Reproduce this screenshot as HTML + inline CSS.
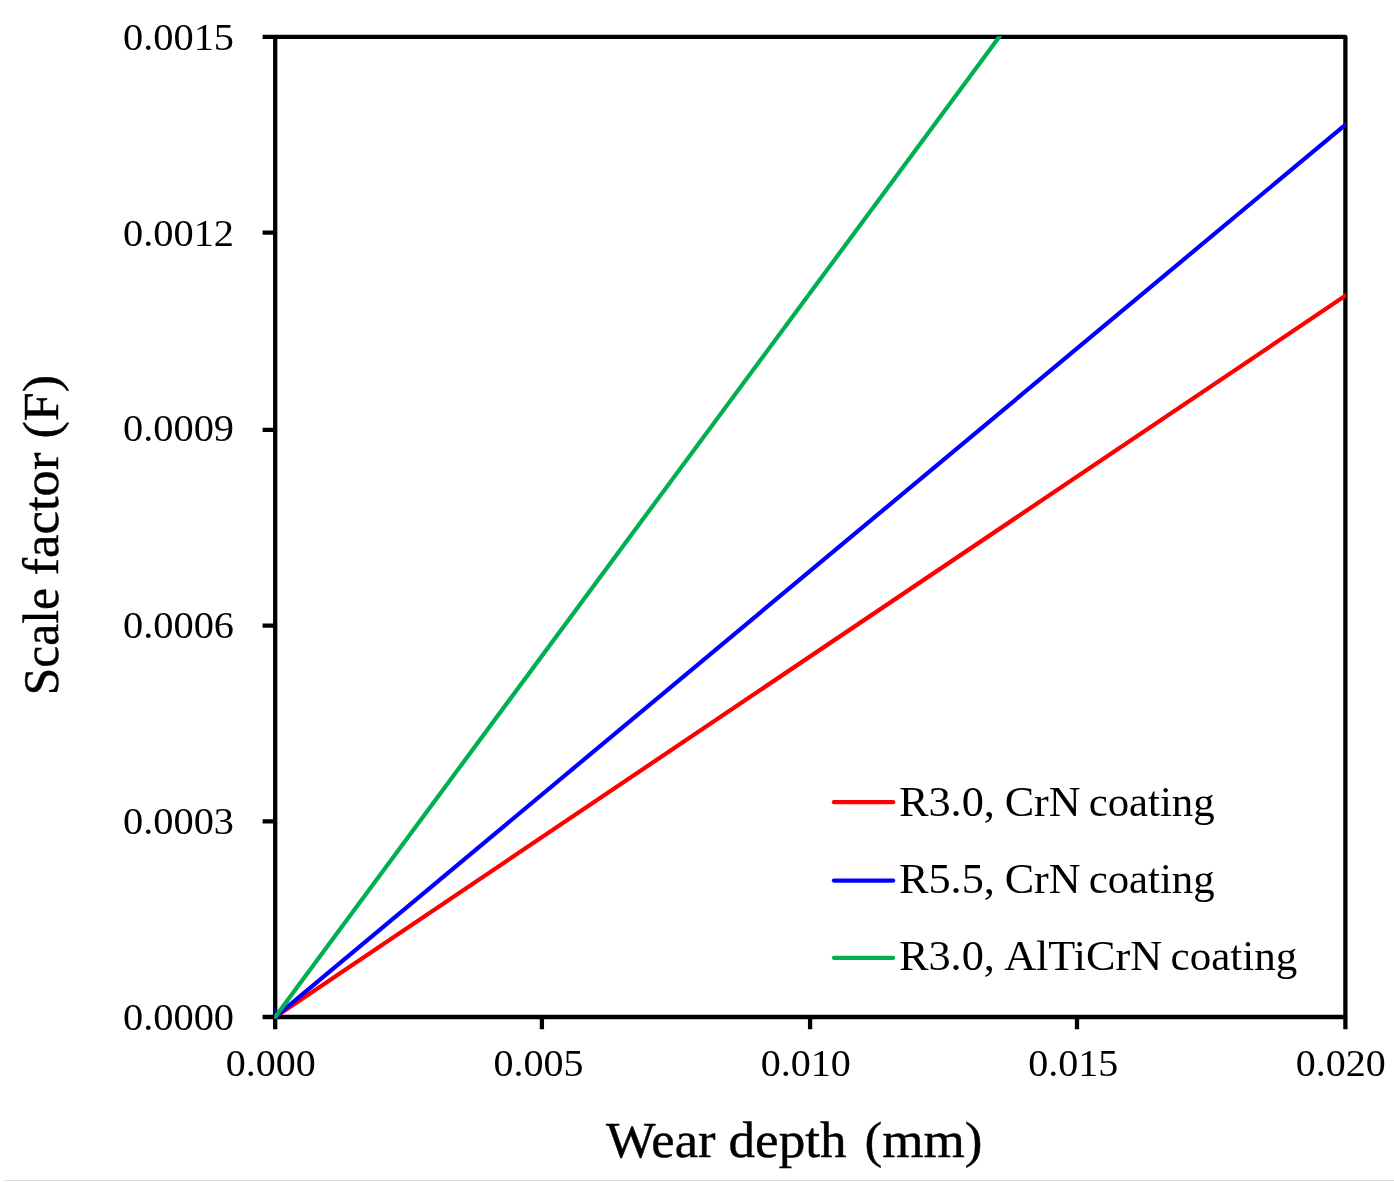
<!DOCTYPE html>
<html lang="en">
<head>
<meta charset="utf-8">
<title>Scale factor vs wear depth</title>
<style>
  html, body { margin: 0; padding: 0; background: #ffffff; }
  body { width: 1394px; height: 1182px; overflow: hidden; }
  svg { display: block; }
  text { font-family: "Liberation Serif", serif; fill: #000000; }
  .tick { font-size: 38.5px; }
  .title { font-size: 50px; stroke: #000000; stroke-width: 0.4px; }
  .legend { font-size: 42.7px; }
</style>
</head>
<body>
<svg width="1394" height="1182" viewBox="0 0 1394 1182">
  <rect x="0" y="0" width="1394" height="1182" fill="#ffffff"/>
  <!-- bottom faint rule -->
  <rect x="4" y="1180" width="1390" height="1" fill="#dedede"/>

  <!-- axes box -->
  <g stroke="#000000" stroke-width="4.3" fill="none" stroke-linejoin="round" stroke-linecap="butt">
    <rect x="275.2" y="36.9" width="1070.2" height="980.1"/>
    <!-- y ticks -->
    <path d="M262.6 36.9H275.2M262.6 232.7H275.2M262.6 429.9H275.2M262.6 625.6H275.2M262.6 821.3H275.2M262.6 1017H275.2"/>
    <!-- x ticks -->
    <path d="M275.2 1017V1029.3M541.9 1017V1029.3M810.1 1017V1029.3M1077 1017V1029.3M1345.4 1017V1029.3"/>
  </g>

  <!-- data lines -->
  <defs>
    <clipPath id="plotclip"><rect x="274.2" y="36.3" width="1071.8" height="983"/></clipPath>
  </defs>
  <g fill="none" stroke-width="4.2" stroke-linecap="butt" clip-path="url(#plotclip)">
    <path d="M274.20 1017.67L1352.00 291.24" stroke="#ff0000"/>
    <path d="M274.20 1017.83L1352.00 119.16" stroke="#0000ff"/>
    <path d="M274.20 1018.35L1004.31 30.00" stroke="#00b050"/>
    <rect x="274.2" y="1008.5" width="2.2" height="4" fill="#0000ff" stroke="none"/>
  </g>

  <!-- y tick labels -->
  <g class="tick" text-anchor="end">
    <text x="234" y="49.6" textLength="111" lengthAdjust="spacingAndGlyphs">0.0015</text>
    <text x="234" y="245.5" textLength="111" lengthAdjust="spacingAndGlyphs">0.0012</text>
    <text x="234" y="441.1" textLength="111" lengthAdjust="spacingAndGlyphs">0.0009</text>
    <text x="234" y="637.7" textLength="111" lengthAdjust="spacingAndGlyphs">0.0006</text>
    <text x="234" y="833.6" textLength="111" lengthAdjust="spacingAndGlyphs">0.0003</text>
    <text x="234" y="1029.6" textLength="111" lengthAdjust="spacingAndGlyphs">0.0000</text>
  </g>

  <!-- x tick labels -->
  <g class="tick" text-anchor="middle">
    <text x="270.8" y="1076" textLength="90" lengthAdjust="spacingAndGlyphs">0.000</text>
    <text x="538.4" y="1076" textLength="90" lengthAdjust="spacingAndGlyphs">0.005</text>
    <text x="805.7" y="1076" textLength="90" lengthAdjust="spacingAndGlyphs">0.010</text>
    <text x="1073.2" y="1076" textLength="90" lengthAdjust="spacingAndGlyphs">0.015</text>
    <text x="1340.7" y="1076" textLength="90" lengthAdjust="spacingAndGlyphs">0.020</text>
  </g>

  <!-- axis titles -->
  <text class="title" y="1157.3"><tspan x="606" textLength="109.5" lengthAdjust="spacingAndGlyphs">Wear</tspan> <tspan x="728.5" textLength="118" lengthAdjust="spacingAndGlyphs">depth</tspan> <tspan x="864.5" textLength="118" lengthAdjust="spacingAndGlyphs">(mm)</tspan></text>
  <text class="title" transform="translate(58 0) rotate(-90)"><tspan x="-695.2" textLength="107" lengthAdjust="spacingAndGlyphs">Scale</tspan> <tspan x="-575.5" textLength="123" lengthAdjust="spacingAndGlyphs">factor</tspan> <tspan x="-438.5" textLength="63.5" lengthAdjust="spacingAndGlyphs">(F)</tspan></text>

  <!-- legend -->
  <g fill="none" stroke-width="4.2" stroke-linecap="round">
    <path d="M833.9 802.2H893.2" stroke="#ff0000"/>
    <path d="M833.9 880.6H893.2" stroke="#0000ff"/>
    <path d="M833.9 957.8H893.2" stroke="#00b050"/>
  </g>
  <g class="legend">
    <text y="815.8"><tspan x="898.9" textLength="96" lengthAdjust="spacingAndGlyphs">R3.0,</tspan> <tspan x="1004.7" textLength="76" lengthAdjust="spacingAndGlyphs">CrN</tspan> <tspan x="1088.7" textLength="126" lengthAdjust="spacingAndGlyphs">coating</tspan></text>
    <text y="893.2"><tspan x="898.9" textLength="96" lengthAdjust="spacingAndGlyphs">R5.5,</tspan> <tspan x="1004.7" textLength="76" lengthAdjust="spacingAndGlyphs">CrN</tspan> <tspan x="1088.7" textLength="126" lengthAdjust="spacingAndGlyphs">coating</tspan></text>
    <text y="970.3"><tspan x="898.9" textLength="96" lengthAdjust="spacingAndGlyphs">R3.0,</tspan> <tspan x="1004.2" textLength="158" lengthAdjust="spacingAndGlyphs">AlTiCrN</tspan> <tspan x="1170.6" textLength="126.8" lengthAdjust="spacingAndGlyphs">coating</tspan></text>
  </g>
</svg>
</body>
</html>
